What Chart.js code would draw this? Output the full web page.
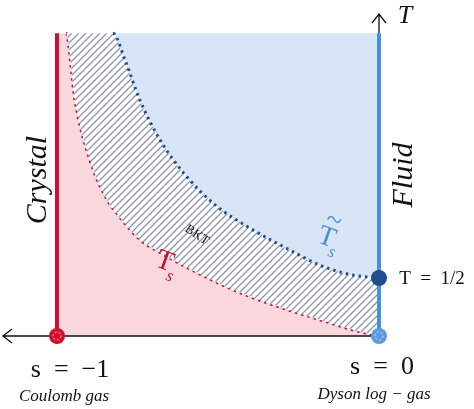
<!DOCTYPE html>
<html><head><meta charset="utf-8">
<script src="https://cdn.jsdelivr.net/npm/chart.js@4"></script>
<style>body{margin:0;background:#fff}#wrap{width:474px;height:409px}</style>
</head><body><div id="wrap"><canvas id="c"></canvas></div>
<script>
// shared s grid for both boundaries
const sGrid = [-1, -0.972, -0.944, -0.898, -0.835, -0.826, -0.789, -0.742, -0.68, -0.602, -0.509, -0.401, -0.276, -0.183, -0.09, 0];
const tsValues = [2.61, 2.61, 2.03, 1.52, 1.13, 1.10, 0.97, 0.83, 0.72, 0.60, 0.47, 0.34, 0.22, 0.14, 0.06, 0];
const tsTildeValues = [2.61, 2.61, 2.61, 2.61, 2.61, 2.61, 2.38, 2.03, 1.69, 1.39, 1.13, 0.93, 0.74, 0.61, 0.53, 0.5];
const tTop = 2.61;
const markers = [[-1, 0], [0, 0], [0, 0.5]];
const markerColors = ['#d0102a', '#5b9ae0', '#1d4f8e'];

const pts = ys => sGrid.map((s, i) => ({x: s, y: ys[i]}));

const hatch = (() => {
  const p = document.createElement('canvas'); p.width = 7; p.height = 7;
  const g = p.getContext('2d');
  g.fillStyle = '#fff'; g.fillRect(0, 0, 7, 7);
  g.strokeStyle = '#8f96ad'; g.lineWidth = 1.3;
  g.beginPath(); g.moveTo(-1, 8); g.lineTo(8, -1); g.moveTo(-1, 1); g.lineTo(1, -1); g.moveTo(6, 8); g.lineTo(8, 6); g.stroke();
  return g.createPattern(p, 'repeat');
})();

const hideFirst = n => ({ borderColor: c => c.p0DataIndex < n ? 'rgba(0,0,0,0)' : undefined });

const overlay = {
  id: 'overlay',
  afterDatasetsDraw(chart) {
    const {ctx, scales: {x, y}} = chart;
    const X = v => x.getPixelForValue(v), Y = v => y.getPixelForValue(v);
    ctx.save();
    // axes with arrows
    ctx.strokeStyle = '#111'; ctx.lineWidth = 1.3;
    ctx.beginPath();
    ctx.moveTo(X(0), Y(0)); ctx.lineTo(3, Y(0));
    ctx.moveTo(12, Y(0) - 7); ctx.lineTo(3, Y(0)); ctx.lineTo(12, Y(0) + 7);
    ctx.moveTo(X(0), Y(tTop)); ctx.lineTo(X(0), 14);
    ctx.moveTo(X(0) - 7, 23); ctx.lineTo(X(0), 14); ctx.lineTo(X(0) + 7, 23);
    ctx.stroke();
    // phase boundaries at s = -1 and s = 0
    ctx.lineWidth = 4;
    ctx.strokeStyle = '#d0102a';
    ctx.beginPath(); ctx.moveTo(X(-1), Y(0)); ctx.lineTo(X(-1), Y(tTop)); ctx.stroke();
    ctx.strokeStyle = '#4a90d9';
    ctx.beginPath(); ctx.moveTo(X(0), Y(0)); ctx.lineTo(X(0), Y(tTop)); ctx.stroke();
    // markers
    markers.forEach(([s, t], i) => {
      ctx.fillStyle = markerColors[i];
      ctx.beginPath(); ctx.arc(X(s), Y(t), 8, 0, Math.PI * 2); ctx.fill();
      if (t === 0) {
        ctx.strokeStyle = 'rgba(255,255,255,0.7)'; ctx.lineWidth = 1; ctx.setLineDash([2, 2]);
        ctx.beginPath(); ctx.arc(X(s), Y(t), 4, 0, Math.PI * 2); ctx.stroke(); ctx.setLineDash([]);
      }
    });
    const text = (t, px, py, font, color, rot) => {
      ctx.save(); ctx.translate(px, py); ctx.rotate(rot || 0);
      ctx.font = font; ctx.fillStyle = color; ctx.textAlign = 'center'; ctx.textBaseline = 'middle';
      ctx.fillText(t, 0, 0); ctx.restore();
    };
    const serif = '"Liberation Serif", "DejaVu Serif", serif';
    text('T', 405, 16, 'italic 26px ' + serif, '#111');
    text('Crystal', 38, 180, 'italic 30px ' + serif, '#111', -Math.PI / 2);
    text('Fluid', 404, 175, 'italic 30px ' + serif, '#111', -Math.PI / 2);
    text('T  =  1/2', 432, 279, '19px ' + serif, '#111');
    text('s  =  \u22121', 70, 370, '26px ' + serif, '#111');
    text('s  =  0', 382, 367, '26px ' + serif, '#111');
    text('Coulomb gas', 64, 397, 'italic 17px ' + serif, '#111');
    text('Dyson log \u2212 gas', 374, 395, 'italic 17px ' + serif, '#111');
    text('BKT', 197, 235, '13px ' + serif, '#111', 0.6);
    // T_s labels
    ctx.save(); ctx.translate(165, 262); ctx.rotate(0.35);
    ctx.font = '28px ' + serif; ctx.fillStyle = '#c8102e'; ctx.textBaseline = 'middle';
    ctx.fillText('T', -9, 0); ctx.font = 'italic 17px ' + serif; ctx.fillText('s', 6, 12);
    ctx.restore();
    ctx.save(); ctx.translate(327, 238); ctx.rotate(0.35);
    ctx.font = '28px ' + serif; ctx.fillStyle = '#4a8fd8'; ctx.textBaseline = 'middle';
    ctx.fillText('T', -9, 0); ctx.fillText('~', -7, -18); ctx.font = 'italic 17px ' + serif; ctx.fillText('s', 6, 12);
    ctx.restore();
    ctx.restore();
  }
};

const curve = {pointRadius: 0, cubicInterpolationMode: 'monotone', clip: false};

new Chart(document.getElementById('c'), {
  type: 'line',
  data: {
    datasets: [
      // 0: top edge of region
      {...curve, data: pts(sGrid.map(() => tTop)), borderWidth: 0, fill: false},
      // 1: T~_s with blue fill up to top edge
      {...curve, data: pts(tsTildeValues), borderColor: '#1f4f8f', borderWidth: 3, borderDash: [2.5, 4],
       fill: {target: 0}, backgroundColor: '#d7e5f6', segment: hideFirst(5)},
      // 2: hatched BKT band
      {...curve, data: pts(tsValues), borderWidth: 0, fill: {target: 1}, backgroundColor: hatch},
      // 3: T_s with pink fill below
      {...curve, data: pts(tsValues), borderColor: '#c0143c', borderWidth: 3, borderDash: [2.5, 4],
       fill: 'origin', backgroundColor: '#f8d8dc', segment: hideFirst(1)}
    ]
  },
  options: {
    responsive: true, maintainAspectRatio: false, animation: false,
    layout: {padding: {left: 0, right: 95, top: 0, bottom: 73}},
    plugins: {legend: {display: false}, tooltip: {enabled: false}},
    scales: {
      x: {type: 'linear', min: -1 - 57 / 322, max: 0, display: false},
      y: {min: 0, max: 336 / 116, display: false}
    }
  },
  plugins: [overlay]
});
</script></body></html>
